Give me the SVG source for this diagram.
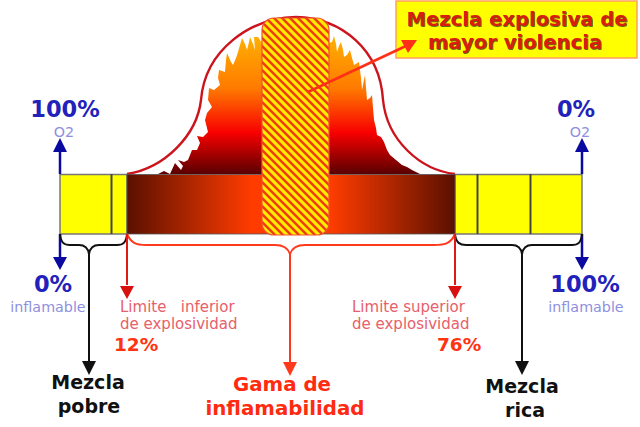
<svg xmlns="http://www.w3.org/2000/svg" width="640" height="427" viewBox="0 0 640 427">
<style>
.verd{font-family:"DejaVu Sans",Verdana,sans-serif}
.pct{font-weight:700;font-size:22.500px;fill:#2222bb;text-anchor:middle}
.sub{font-size:14.300px;fill:#8f8fe0;text-anchor:middle}
.lim{font-size:15px;fill:#e8606a}
.val{font-weight:700;font-size:18.500px;fill:#ff3311}
.blk{font-weight:700;font-size:19px;fill:#111;text-anchor:middle}
.gam{font-weight:700;font-size:19.800px;fill:#ff2a10;text-anchor:middle}
.seg{fill:#ffff00;stroke:#777;stroke-width:1.5}
.div{stroke:#444;stroke-width:2}
.blue{stroke:#0a0aa0;stroke-width:2.5;fill:none}
.bluehead{fill:#0a0aa0}
.blackline{stroke:#111;stroke-width:2;fill:none}
.redline{stroke:#e01818;stroke-width:2;fill:none}
.orangeline{stroke:#ff3a1c;stroke-width:2;fill:none}
.call{font-size:19.600px;font-weight:700;fill:#d81e10;text-anchor:middle;filter:url(#emboss)}
</style>
<defs>
<linearGradient id="flame" x1="0" y1="36" x2="0" y2="174" gradientUnits="userSpaceOnUse">
<stop offset="0" stop-color="#ffb000"/><stop offset="0.38" stop-color="#ff7a00"/><stop offset="0.7" stop-color="#f80000"/><stop offset="1" stop-color="#5a0000"/>
</linearGradient>
<linearGradient id="band" x1="127" y1="0" x2="455" y2="0" gradientUnits="userSpaceOnUse">
<stop offset="0" stop-color="#5a1000"/><stop offset="0.38" stop-color="#ff3c00"/><stop offset="0.62" stop-color="#ff3c00"/><stop offset="1" stop-color="#5a1000"/>
</linearGradient>
<!-- seamless diagonal stripes, falling to the right -->
<pattern id="hatch" width="8" height="8" patternUnits="userSpaceOnUse">
<rect width="8" height="8" fill="#ffee00"/>
<path d="M-2,-2L10,10M-2,6L2,10M6,-2L10,2" stroke="#f03c10" stroke-width="2.500" fill="none"/>
</pattern>
<filter id="emboss" x="-5%" y="-20%" width="110%" height="140%">
<feDropShadow dx="0.800" dy="0.800" stdDeviation="0.400" flood-color="#3a4a10"/>
</filter>
</defs>

<g id="flames">
<path fill="url(#flame)" d="M158,174L164,171L170,174L175,163L181,170L183,166L178,160L184,162L188,160L192,150L197,150L200,143L197,136L203,137L208,132L205,120L207,113L212,107L208,100L209,88L214,90L220,85L218,78L219,70L225,72L226,60L227,53L231,62L233,65L236,58L238,52L240,45L242,38L245,44L247,50L249,42L250,37L253,44L255,50L254,37L258,37L262,43V174Z"/>
<path fill="url(#flame)" d="M329,43L332,42L334,36L336,44L337,52L339,46L341,42L343,50L344,57L347,55L350,50L352,58L354,65L359,62L361,78L362,90L364,80L365,75L367,100L370,98L372,95L373,108L374,120L376,128L377,135L381,137L384,142L387,150L390,155L396,160L402,165L407,167L412,170L420,174H329Z"/>
</g>

<g id="dome">
<path d="M127,174C165,168 197,135 201,100C205,50 250,18 296,17C342,18 380,50 383,100C387,140 420,170 455,174" fill="none" stroke="#cc141c" stroke-width="2.400"/>
</g>

<g id="bar">
<rect class="seg" x="60" y="174.500" width="67" height="59.500"/>
<line class="div" x1="111.500" y1="174" x2="111.500" y2="234"/>
<rect class="seg" x="455" y="174.500" width="127" height="59.500"/>
<line class="div" x1="477.500" y1="174" x2="477.500" y2="234"/>
<line class="div" x1="530.500" y1="174" x2="530.500" y2="234"/>
<rect x="127" y="174.500" width="328" height="59.500" fill="url(#band)" stroke="#555" stroke-width="0.800"/>
</g>

<g id="hatched-zone">
<rect x="262" y="18" width="67" height="217" rx="12" fill="url(#hatch)" stroke="#f05030" stroke-width="1.200"/>
</g>

<g id="callout">
<rect x="396" y="1" width="241" height="57" fill="#ffff00" stroke="#ffa060" stroke-width="1.500"/>
<text class="verd call" x="517" y="26">Mezcla explosiva de</text>
<text class="verd call" x="515" y="49">mayor violencia</text>
</g>

<g id="connectors">
<path class="blue" d="M60,174V146"/><path class="bluehead" d="M60,138L53,152H67Z"/>
<path class="blue" d="M60,234V262"/><path class="bluehead" d="M60,270L53,257H67Z"/>
<path class="blue" d="M582,174V146"/><path class="bluehead" d="M582,138L575,152H589Z"/>
<path class="blue" d="M582,234V262"/><path class="bluehead" d="M582,270L575,257H589Z"/>
<path class="blackline" d="M60,234C61,243 64,245 70,245H79C85,245 88,248 89,254C90,248 93,245 99,245H117C123,245 126,243 127,234"/>
<path class="blackline" d="M89,254V368"/><path d="M89,375L82,361H96Z" fill="#111"/>
<path class="blackline" d="M455,234C456,243 460,245 466,245H512C518,245 521,248 522,254C523,248 526,245 532,245H572C578,245 581,243 582,234"/>
<path class="blackline" d="M522,254V368"/><path d="M522,375L515,361H529Z" fill="#111"/>
<path class="orangeline" d="M127,234C131,243 136,245 146,245H275C283,245 288,248 290,254C292,248 297,245 305,245H434C446,245 451,243 455,234"/>
<path class="orangeline" d="M290,254V368"/><path d="M290,376L283,362H297Z" fill="#ff3a1c"/>
<path class="redline" d="M127,234V285"/><path d="M127,299L120,286H134Z" fill="#d81010"/>
<path class="redline" d="M455,234V285"/><path d="M455,299L448,286H462Z" fill="#d81010"/>
<line x1="308" y1="92" x2="408" y2="45" stroke="#ff3018" stroke-width="2.500"/><path d="M417,40L401,40L408,53Z" fill="#ff3018"/>
</g>

<g id="labels">
<text class="verd pct" x="65" y="117">100%</text>
<text class="verd sub" x="64" y="136.500">O2</text>
<text class="verd pct" x="53" y="292">0%</text>
<text class="verd sub" x="48" y="311.500">inflamable</text>
<text class="verd pct" x="576" y="117">0%</text>
<text class="verd sub" x="580" y="136.500">O2</text>
<text class="verd pct" x="585" y="292">100%</text>
<text class="verd sub" x="586" y="311.500">inflamable</text>
<text class="verd lim" x="120" y="311.500" xml:space="preserve">Limite   inferior</text>
<text class="verd lim" x="120" y="328.500">de explosividad</text>
<text class="verd val" x="114" y="351">12%</text>
<text class="verd lim" x="352" y="311.500">Limite superior</text>
<text class="verd lim" x="352" y="328.500">de explosividad</text>
<text class="verd val" x="437" y="351">76%</text>
<text class="verd blk" x="88" y="389">Mezcla</text>
<text class="verd blk" x="89" y="413">pobre</text>
<text class="verd blk" x="522" y="393">Mezcla</text>
<text class="verd blk" x="525" y="417">rica</text>
<text class="verd gam" x="282" y="391">Gama de</text>
<text class="verd gam" x="285" y="415">inflamabilidad</text>
</g>
</svg>
